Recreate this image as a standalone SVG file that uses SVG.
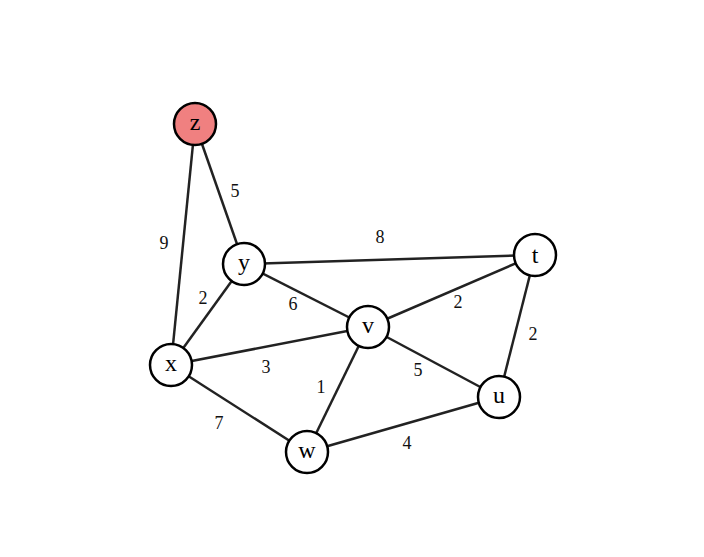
<svg xmlns="http://www.w3.org/2000/svg" width="704" height="557" viewBox="0 0 704 557">
<style>
.e{stroke:#222;stroke-width:2.5;fill:none}
.n{fill:#fff;stroke:#000;stroke-width:2.5}
.nl{font-family:"Liberation Serif",serif;font-size:24px;text-anchor:middle;dominant-baseline:central}
.el{font-family:"Liberation Serif",serif;font-size:18px;text-anchor:middle;dominant-baseline:central;fill:#111}
</style>
<rect width="704" height="557" fill="#fff"/>
<g id="edges">
<line class="e" x1="195" y1="124" x2="244" y2="264"/>
<line class="e" x1="195" y1="124" x2="171" y2="365"/>
<line class="e" x1="244" y1="264" x2="535" y2="255"/>
<line class="e" x1="244" y1="264" x2="171" y2="365"/>
<line class="e" x1="244" y1="264" x2="368" y2="327"/>
<line class="e" x1="368" y1="327" x2="535" y2="255"/>
<line class="e" x1="535" y1="255" x2="499" y2="397"/>
<line class="e" x1="171" y1="365" x2="368" y2="327"/>
<line class="e" x1="368" y1="327" x2="307" y2="452"/>
<line class="e" x1="368" y1="327" x2="499" y2="397"/>
<line class="e" x1="171" y1="365" x2="307" y2="452"/>
<line class="e" x1="307" y1="452" x2="499" y2="397"/>
<text class="el" x="235" y="191">5</text>
<text class="el" x="164" y="243">9</text>
<text class="el" x="380" y="237">8</text>
<text class="el" x="203" y="298">2</text>
<text class="el" x="293" y="304">6</text>
<text class="el" x="458" y="302">2</text>
<text class="el" x="533" y="334">2</text>
<text class="el" x="266" y="367">3</text>
<text class="el" x="321" y="387">1</text>
<text class="el" x="418" y="370">5</text>
<text class="el" x="219" y="423">7</text>
<text class="el" x="407" y="443">4</text>
</g>
<g id="z"><circle class="n" cx="195" cy="124" r="21" style="fill:#f08080"/><text class="nl" x="195" y="122">z</text></g>
<g id="y"><circle class="n" cx="244" cy="264" r="21"/><text class="nl" x="244" y="262">y</text></g>
<g id="t"><circle class="n" cx="535" cy="255" r="21"/><text class="nl" x="535" y="255">t</text></g>
<g id="v"><circle class="n" cx="368" cy="327" r="21"/><text class="nl" x="368" y="325">v</text></g>
<g id="x"><circle class="n" cx="171" cy="365" r="21"/><text class="nl" x="171" y="363">x</text></g>
<g id="u"><circle class="n" cx="499" cy="397" r="21"/><text class="nl" x="499" y="395">u</text></g>
<g id="w"><circle class="n" cx="307" cy="452" r="21"/><text class="nl" x="307" y="450">w</text></g>
</svg>
